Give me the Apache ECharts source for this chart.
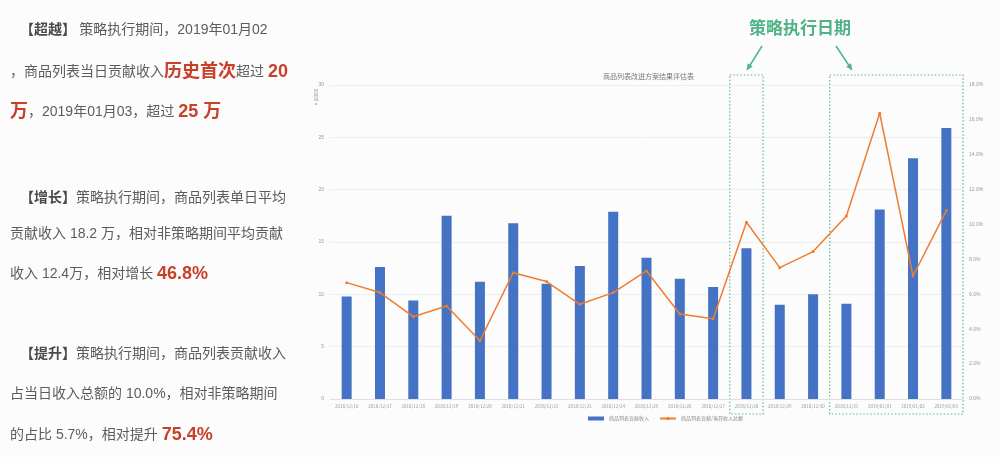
<!DOCTYPE html>
<html>
<head>
<meta charset="utf-8">
<script src="https://cdn.jsdelivr.net/npm/echarts@6/dist/echarts.min.js"></script>
<style>
html,body{margin:0;padding:0;background:#fdfcfc;}
#c{width:1000px;height:457px;}
</style>
</head>
<body>
<div id="c"></div>
<script>
const categories = ['2018/12/16','2018/12/17','2018/12/18','2018/12/19','2018/12/20','2018/12/21','2018/12/22','2018/12/23','2018/12/24','2018/12/25','2018/12/26','2018/12/27','2018/12/28','2018/12/29','2018/12/30','2018/12/31','2019/01/01','2019/01/02','2019/01/03'];
const revenue = [9.8,12.6,9.4,17.5,11.2,16.8,11.0,12.7,17.9,13.5,11.5,10.7,14.4,9.0,10.0,9.1,18.1,23.0,25.9];
const share = [6.67,6.1,4.72,5.33,3.34,7.24,6.73,5.43,6.1,7.34,4.87,4.6,10.13,7.53,8.45,10.49,16.38,7.05,10.8];
const strategyGroups = [['2018/12/28','2018/12/28'],['2018/12/31','2019/01/03']];
const leftTicks = {min:0,max:30,interval:5};
const rightTicks = {min:0,max:18,interval:2};
const seriesNames = ['商品列表贡献收入','商品列表贡献/当日收入总额'];
const chartTitle = '商品列表改进方案结果评估表';
const annotationLabel = '策略执行日期';
const panelLines = [
  {x:20,y:30,t:'{b|【超越】} {n|策略执行期间，2019年01月02}'},
  {x:10,y:72,t:'{n|，商品列表当日贡献收入}{r|历史首次}{n|超过 }{r|20}'},
  {x:10,y:112,t:'{r|万}{n|，2019年01月03，超过 }{r|25 万}'},
  {x:20,y:198,t:'{b|【增长】}{n|策略执行期间，商品列表单日平均}'},
  {x:10,y:234,t:'{n|贡献收入 18.2 万，相对非策略期间平均贡献}'},
  {x:10,y:274,t:'{n|收入 12.4万，相对增长 }{r|46.8%}'},
  {x:20,y:354,t:'{b|【提升】}{n|策略执行期间，商品列表贡献收入}'},
  {x:10,y:394,t:'{n|占当日收入总额的 10.0%，相对非策略期间}'},
  {x:10,y:435,t:'{n|的占比 5.7%，相对提升 }{r|75.4%}'}
];

const FONT = '"Liberation Sans","Noto Sans CJK SC",sans-serif';
const CJK = '"Noto Sans CJK SC","Noto Sans",sans-serif';
const chart = echarts.init(document.getElementById('c'));
const rich = {
  n:{fontSize:14,fill:'#5c5c5c',fontFamily:FONT},
  b:{fontSize:14,fill:'#4a4a4a',fontWeight:'bold',fontFamily:FONT},
  r:{fontSize:18,fill:'#c8402a',fontWeight:'bold',fontFamily:FONT}
};
const GRID = {left:330,right:37,top:85,bottom:58};

const option = {
  backgroundColor:'#fdfcfc',
  animation:false,
  title:{text:chartTitle,left:598,top:68,textStyle:{fontSize:7,color:'#777',fontWeight:'normal',fontFamily:CJK}},
  legend:{left:583,top:411,itemWidth:16,itemHeight:4,itemGap:10,textStyle:{fontSize:5,color:'#888',fontFamily:CJK},
    data:[{name:seriesNames[0],icon:'rect'},{name:seriesNames[1]}]},
  grid:GRID,
  xAxis:{type:'category',data:categories,axisTick:{show:false},
    axisLine:{lineStyle:{color:'#e0e0e0'}},
    axisLabel:{fontSize:4.5,color:'#999',margin:5,interval:0,fontFamily:CJK}},
  yAxis:[
    {type:'value',min:leftTicks.min,max:leftTicks.max,interval:leftTicks.interval,
     axisLine:{show:false},axisTick:{show:false},
     axisLabel:{fontSize:5,color:'#999',margin:6},
     splitLine:{lineStyle:{color:'#eeeeee'}}},
    {type:'value',min:rightTicks.min,max:rightTicks.max,interval:rightTicks.interval,
     axisLine:{show:false},axisTick:{show:false},
     axisLabel:{fontSize:5,color:'#999',margin:6,formatter:v=>v.toFixed(1)+'%'},
     splitLine:{show:false}}
  ],
  series:[
    {name:seriesNames[0],type:'bar',data:revenue,barWidth:10,itemStyle:{color:'#4472c4'}},
    {name:seriesNames[1],type:'line',yAxisIndex:1,data:share,symbol:'circle',symbolSize:3,
     lineStyle:{color:'#ed7d31',width:1.5},itemStyle:{color:'#ed7d31'}}
  ]
};
chart.setOption(option);

// annotations
const gridW = 1000 - GRID.left - GRID.right;
const band = gridW / categories.length;
const graphics = [];
panelLines.forEach(l=>{
  graphics.push({type:'text',x:l.x,y:l.y,style:{text:l.t,rich:rich,verticalAlign:'middle',align:'left'}});
});
graphics.push({type:'text',x:317,y:97,rotation:Math.PI/2,style:{text:'× 10000',fontSize:4.5,fill:'#888',align:'center',verticalAlign:'middle'}});
const green = '#5cb88c';
strategyGroups.forEach(g=>{
  const x0 = chart.convertToPixel({xAxisIndex:0}, g[0]) - band/2;
  const x1 = chart.convertToPixel({xAxisIndex:0}, g[1]) + band/2;
  graphics.push({type:'rect',shape:{x:x0,y:75,width:x1-x0,height:339},
    style:{fill:'none',stroke:green,lineWidth:1.2,lineDash:[1.5,2]}});
});
graphics.push({type:'text',x:800,y:28,style:{text:annotationLabel,fontSize:17,fontWeight:'bold',fill:'#4fb386',fontFamily:CJK,align:'center',verticalAlign:'middle'}});
function arrow(x0,y0,x1,y1){
  graphics.push({type:'line',shape:{x1:x0,y1:y0,x2:x1,y2:y1},style:{stroke:'#4fb386',lineWidth:1.5}});
  const a = Math.atan2(y1-y0,x1-x0), L=6, W=3;
  const bx = x1 - L*Math.cos(a), by = y1 - L*Math.sin(a);
  const px = -Math.sin(a)*W, py = Math.cos(a)*W;
  graphics.push({type:'polygon',shape:{points:[[x1,y1],[bx+px,by+py],[bx-px,by-py]]},style:{fill:'#4fb386'}});
}
arrow(762,46,747,70);
arrow(836,46,852,70);
chart.setOption({graphic:graphics});
</script>
</body>
</html>
